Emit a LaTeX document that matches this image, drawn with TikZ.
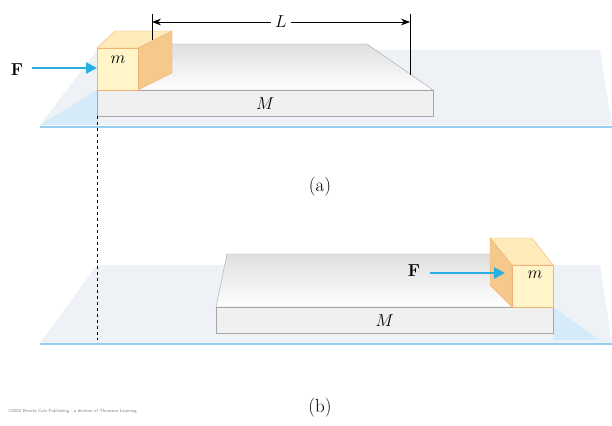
\documentclass[tikz,border=0pt]{standalone}
\usetikzlibrary{arrows.meta}
\definecolor{fcyan}{RGB}{40,175,225}
\definecolor{floorc}{RGB}{238,242,246}
\definecolor{floorline}{RGB}{150,205,240}
\definecolor{blockf}{RGB}{255,245,200}
\definecolor{blocks}{RGB}{245,200,140}
\definecolor{blockt}{RGB}{255,235,185}
\tikzset{
  plankface/.style={draw=gray!70, fill=gray!12},
  planktop/.style={draw=gray!70, top color=gray!25, bottom color=white},
  blk/.style={draw=orange!60!brown!60, line width=0.4pt},
  farrow/.style={draw=fcyan, line width=2.6pt, -{Triangle[length=11pt,width=11pt]}},
  dim/.style={line width=0.8pt, {Stealth[length=9pt]}-{Stealth[length=9pt]}},
  lab/.style={font=\fontsize{19}{19}\selectfont}
}
\begin{document}
\begin{tikzpicture}[x=1pt,y=-1pt]
\useasboundingbox (0,0) rectangle (612,425);
% floors
\fill[floorc] (40,125) -- (97,50) -- (600,50) -- (612,125) -- cycle;
\fill[floorline!40] (40,125) -- (97,90) -- (97,125) -- cycle;
\draw[floorline, line width=1.2pt] (40,127) -- (612,127);
\fill[floorc] (40,343) -- (97,265) -- (600,265) -- (612,343) -- cycle;
\fill[floorline!40] (553,307) -- (600,340) -- (553,340) -- cycle;
\draw[floorline, line width=1.2pt] (40,344) -- (612,344);
% (a) plank
\path[planktop] (97,90) -- (150,44) -- (367,44) -- (433,90) -- cycle;
\node[plankface, minimum width=336pt, minimum height=26pt, anchor=north west, inner sep=0] (Ma) at (97,90) {};
\node[lab] at (Ma.center) {$M$};
% (a) block
\path[blk, fill=blockt] (97,48) -- (115,31) -- (172,31) -- (138,48) -- cycle;
\path[blk, fill=blocks] (138,48) -- (172,31) -- (172,73) -- (138,90) -- cycle;
\node[blk, fill=blockf, minimum width=41pt, minimum height=42pt, anchor=north west, inner sep=0] (ma) at (97,48) {};
\node[lab] at (118,60) {$m$};
% F (a)
\coordinate (Fa0) at (32,68);
\draw[farrow] (Fa0) -- (ma.west |- Fa0);
\node[lab] at (17,70) {$\mathbf{F}$};
% L dimension
\coordinate (L1) at (152,14); \coordinate (L1b) at (152,40);
\coordinate (L2) at (410,14); \coordinate (L2b) at (410,75);
\draw[line width=0.8pt] (L1) -- (L1b);
\draw[line width=0.8pt] (L2) -- (L2b);
\draw[dim] (152,22) -- node[fill=white, lab, inner sep=4pt] {$L$} (410,22);
% dashed
\draw[dashed, line width=0.8pt] (97,116) -- (97,340);
\node[lab] at (320,187) {(a)};
% (b) plank
\path[planktop] (216,307) -- (227,254) -- (490,254) -- (512,307) -- cycle;
\node[plankface, minimum width=337pt, minimum height=26pt, anchor=north west, inner sep=0] (Mb) at (216,307) {};
\node[lab] at (Mb.center) {$M$};
% (b) block
\path[blk, fill=blockt] (490,238) -- (532,238) -- (553,265) -- (512,265) -- cycle;
\path[blk, fill=blocks] (490,238) -- (512,265) -- (512,307) -- (490,285) -- cycle;
\node[blk, fill=blockf, minimum width=41pt, minimum height=42pt, anchor=north west, inner sep=0] (mb) at (512,265) {};
\node[lab] at (535,275) {$m$};
\coordinate (Fb0) at (430,273);
\coordinate (Fb1) at (505,273);
\draw[farrow] (Fb0) -- (Fb1);
\node[lab] at (414,271) {$\mathbf{F}$};
\node[lab] at (320,408) {(b)};
\node[font=\fontsize{4.5}{5}\selectfont\sffamily, anchor=west, text=gray] at (5,411) {©2002 Brooks Cole Publishing - a division of Thomson Learning};
\end{tikzpicture}
\end{document}
